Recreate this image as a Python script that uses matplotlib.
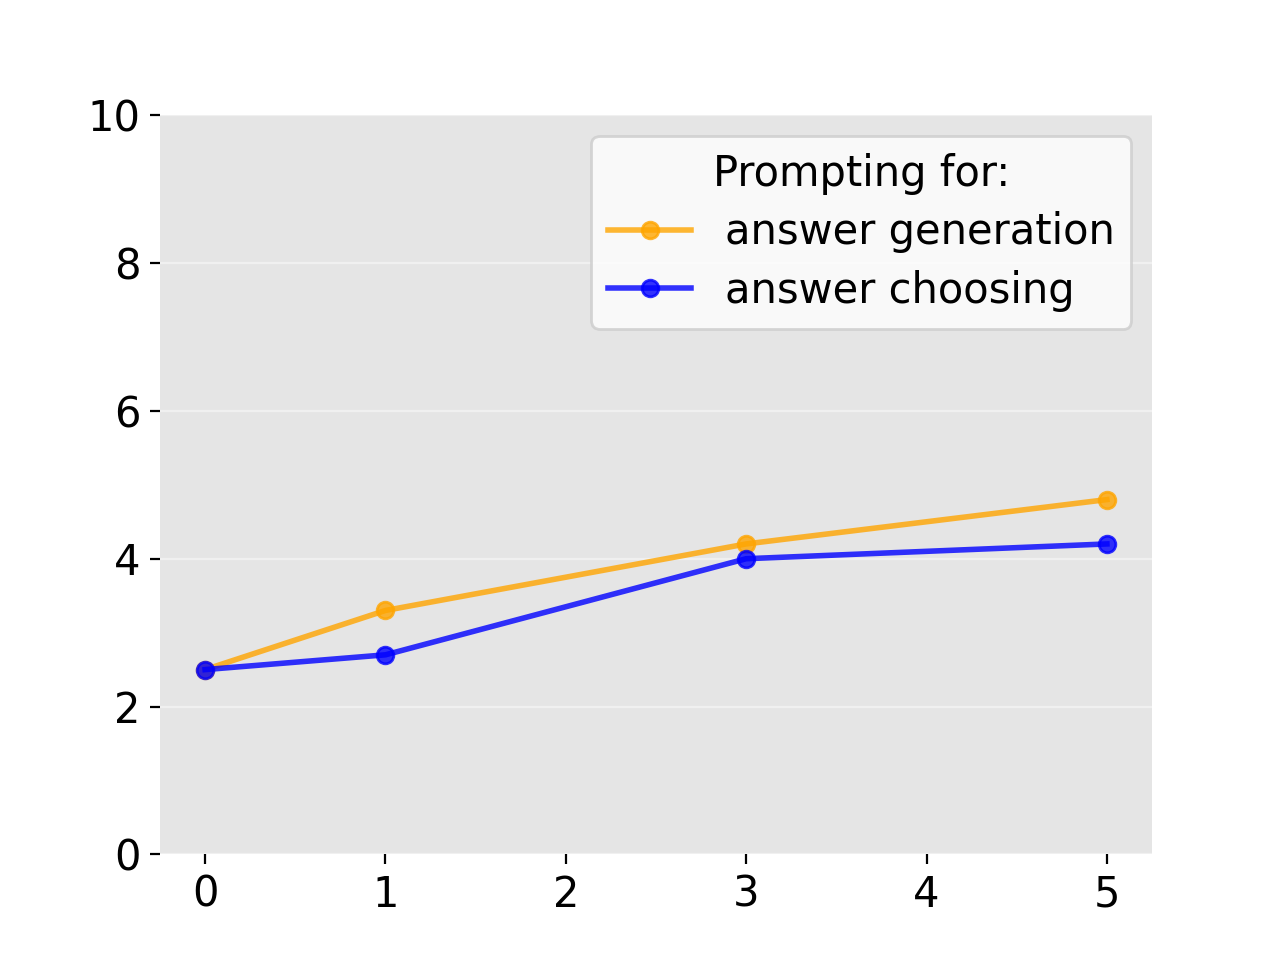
import matplotlib
matplotlib.use("Agg")
import matplotlib.pyplot as plt

x = [0, 1, 3, 5]
gen = [2.5, 3.3, 4.2, 4.8]
choose = [2.5, 2.7, 4.0, 4.2]
labels = ["answer generation", "answer choosing"]
legend_title = "Prompting for:"

plt.rcParams['font.size'] = 15
fig, ax = plt.subplots(figsize=(6.4, 4.8), dpi=200)
ax.set_facecolor('#e5e5e5')
ax.plot(x, gen, '-o', color='orange', alpha=0.8, lw=2, label=labels[0])
ax.plot(x, choose, '-o', color='blue', alpha=0.8, lw=2, label=labels[1])
ax.set_ylim(0, 10)
ax.set_yticks([0, 2, 4, 6, 8, 10])
ax.grid(axis='y', color='white', lw=0.8, alpha=0.45)
ax.set_axisbelow(True)
for s in ax.spines.values():
    s.set_visible(False)
ax.legend(title=legend_title, loc='upper right', title_fontsize=15, labelspacing=0.4)
fig.savefig('out.png', dpi=200)
